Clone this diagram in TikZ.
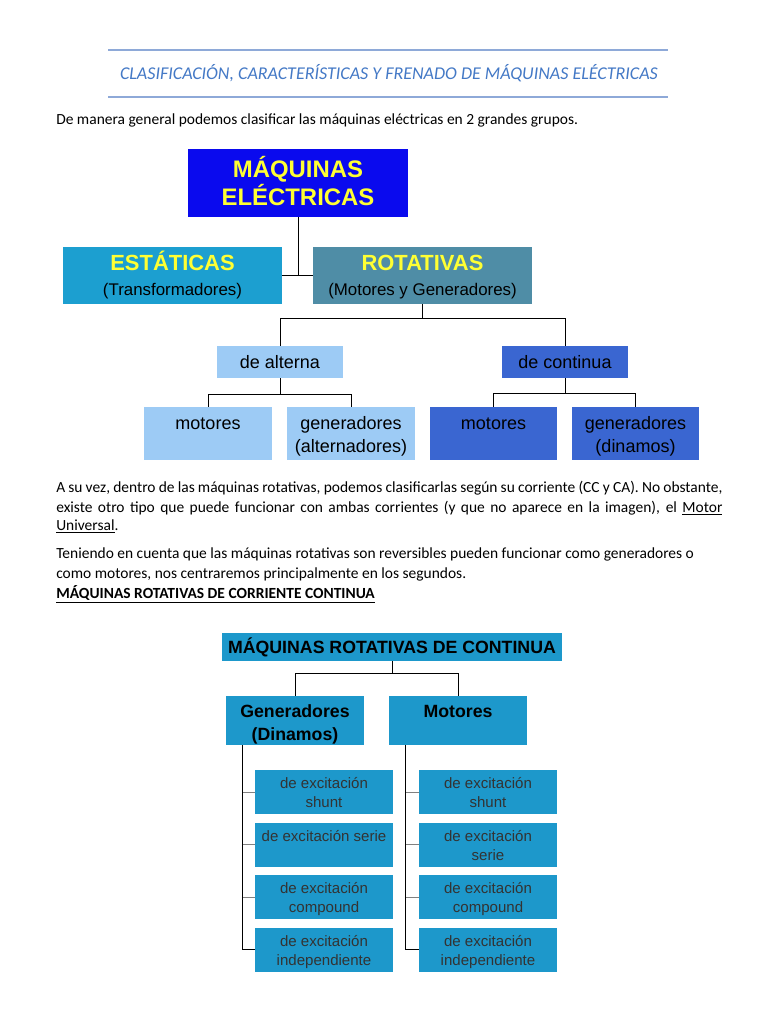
\documentclass[tikz,border=0pt]{standalone}
\usepackage{fontspec}
\usepackage{xcolor}
\usepackage{tikz}
\usetikzlibrary{positioning}
\setmainfont{Carlito}
\newfontfamily\arialf{Liberation Sans}
\definecolor{lineatit}{HTML}{8EA9D8}
\definecolor{azultit}{HTML}{4479C6}
\definecolor{azulmaq}{HTML}{0A0AEE}
\definecolor{amarillo}{HTML}{FFFF33}
\definecolor{azulest}{HTML}{1C9FD0}
\definecolor{azulrot}{HTML}{4F8DA6}
\definecolor{azulclaro}{HTML}{9DCBF5}
\definecolor{azuloscuro}{HTML}{3A66D1}
\definecolor{azulcaja}{HTML}{1D98CB}
\definecolor{gristexto}{HTML}{333333}

\begin{document}
\begin{tikzpicture}[x=0.025cm,y=-0.025cm,every node/.style={inner sep=0pt,align=center},
caja/.style={font=\arialf,text=black},
media/.style={caja,minimum width=5.475cm,minimum height=1.425cm,text height=28.6pt,text depth=0pt,font=\arialf\fontsize{12}{17.8}\selectfont},
rama2/.style={caja,minimum width=3.15cm,minimum height=0.8cm,text height=10pt,text depth=0.8pt,font=\arialf\fontsize{12.8}{16.4}\selectfont},
baja/.style={caja,minimum width=3.175cm,minimum height=1.325cm,text height=28pt,text depth=0.9pt,font=\arialf\fontsize{12.8}{16.4}\selectfont},
cab/.style={caja,fill=azulcaja,minimum width=3.45cm,minimum height=1.225cm,text height=29pt,text depth=0.5pt,font=\arialf\bfseries\fontsize{12.6}{16.4}\selectfont},
hoja/.style={caja,fill=azulcaja,minimum width=3.45cm,minimum height=1.1cm,text height=22.4pt,text depth=0.4pt,text=gristexto,font=\arialf\fontsize{10.7}{13.5}\selectfont},
texto/.style={anchor=base west,font=\fontsize{11}{13}\selectfont},
rama/.style={draw=black,line width=0.7pt},
marca/.style={draw=gray,line width=0.7pt}]
\useasboundingbox[fill=white] (0,0) rectangle (768,1024);

% cabecera
\draw[lineatit,line width=0.8pt] (108,50) -- (668,50);
\draw[lineatit,line width=0.8pt] (108,97) -- (668,97);
\node (titulo) [text=azultit,font=\itshape\fontsize{12.8}{15}\selectfont] at (389,73) {CLASIFICACIÓN, CARACTERÍSTICAS Y FRENADO DE MÁQUINAS ELÉCTRICAS};
\node (intro) [texto] at (56,125) {De manera general podemos clasificar las máquinas eléctricas en 2 grandes grupos.};

% primer esquema
\node (maq) [caja,fill=azulmaq,minimum width=5.5cm,minimum height=1.7cm,text height=32.5pt,text depth=0.4pt,text=amarillo,font=\arialf\bfseries\fontsize{17}{20}\selectfont] at (298,183) {MÁQUINAS\\ELÉCTRICAS};
\node (est) [media,fill=azulest] at (172.5,275.5) {{\color{amarillo}\bfseries\fontsize{15.6}{17.8}\selectfont ESTÁTICAS}\\(Transformadores)};
\node (rot) [media,fill=azulrot] at (422.5,275.5) {{\color{amarillo}\bfseries\fontsize{15.6}{17.8}\selectfont ROTATIVAS}\\(Motores y Generadores)};
\node (alt) [rama2,fill=azulclaro] at (280,362) {de alterna};
\node (cont) [rama2,fill=azuloscuro] at (565,362) {de continua};
\node (amot) [baja,fill=azulclaro] at (208,433.5) {motores\\~};
\node (agen) [baja,fill=azulclaro] at (351,433.5) {generadores\\(alternadores)};
\node (cmot) [baja,fill=azuloscuro] at (493.5,433.5) {motores\\~};
\node (cgen) [baja,fill=azuloscuro] at (635.5,433.5) {generadores\\(dinamos)};
\draw[rama] (maq.south) -- (maq.south |- est.east);
\draw[rama] (est.east) -- (rot.west);
\draw[rama] (rot.south) -- ++(0,14) -| (alt.north);
\draw[rama] (rot.south) ++(0,14) -| (cont.north);
\draw[rama] (alt.south) -- ++(0,16) -| (amot.north);
\draw[rama] (alt.south) ++(0,16) -| (agen.north);
\draw[rama] (cont.south) -- ++(0,15) -| (cmot.north);
\draw[rama] (cont.south) ++(0,15) -| (cgen.north);

% texto intermedio
\node (par1) [texto] at (56,492) {\makebox[16.65cm][s]{A su vez, dentro de las máquinas rotativas, podemos clasificarlas según su corriente (CC y CA). No obstante,}};
\node (par2) [texto] at (56,512) {\makebox[16.65cm][s]{existe otro tipo que puede funcionar con ambas corrientes (y que no aparece en la imagen), el \underline{Motor}}};
\node (par3) [texto] at (56,530) {\underline{Universal}.};
\node (par4) [texto] at (56,558) {Teniendo en cuenta que las máquinas rotativas son reversibles pueden funcionar como generadores o};
\node (par5) [texto] at (56,578) {como motores, nos centraremos principalmente en los segundos.};
\node (subtit) [texto] at (56,598) {\underline{\textbf{MÁQUINAS ROTATIVAS DE CORRIENTE CONTINUA}}};

% segundo esquema
\node (dtit) [caja,fill=azulcaja,minimum width=8.5cm,minimum height=0.7cm,text height=10pt,text depth=1pt,font=\arialf\bfseries\fontsize{12.6}{14}\selectfont] at (392,647) {MÁQUINAS ROTATIVAS DE CONTINUA};
\node (dgen) [cab] at (295,720.5) {Generadores\\(Dinamos)};
\node (dmot) [cab] at (458,720.5) {Motores\\~};
\draw[rama] (dtit.south) -- ++(0,12) -| (dgen.north);
\draw[rama] (dtit.south) ++(0,12) -| (dmot.north);
\node (g1) [hoja] at (324,792) {de excitación\\shunt};
\node (g2) [hoja,below=0.2cm of g1] {de excitación serie\\~};
\node (g3) [hoja,below=0.2cm of g2] {de excitación\\compound};
\node (g4) [hoja,below=0.2cm of g3] {de excitación\\independiente};
\node (m1) [hoja] at (488,792) {de excitación\\shunt};
\node (m2) [hoja,below=0.2cm of m1] {de excitación\\serie};
\node (m3) [hoja,below=0.2cm of m2] {de excitación\\compound};
\node (m4) [hoja,below=0.2cm of m3] {de excitación\\independiente};
\draw[rama] ([xshift=0.425cm]dgen.south west) |- (g4.west);
\draw[rama] ([xshift=0.425cm]dmot.south west) |- (m4.west);
\foreach \n in {1,2,3} {
  \draw[marca] (g\n.west) -- ++(-12,0);
  \draw[marca] (m\n.west) -- ++(-13,0);
}
\end{tikzpicture}
\end{document}
